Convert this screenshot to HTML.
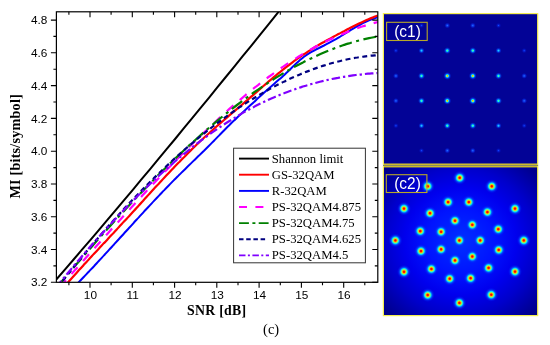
<!DOCTYPE html><html><head><meta charset="utf-8"><title>MI vs SNR</title>
<style>html,body{margin:0;padding:0;background:#fff}svg{display:block}text{font-family:"Liberation Sans",sans-serif}.s{font-family:"Liberation Serif",serif}</style></head><body>
<svg width="550" height="345" viewBox="0 0 550 345">
<defs>
<clipPath id="pc"><rect x="56.4" y="11.8" width="321.4" height="270.5"/></clipPath>
<radialGradient id="d2"><stop offset="0" stop-color="#e80000"/><stop offset="0.12" stop-color="#ff1800"/><stop offset="0.25" stop-color="#ffc000"/><stop offset="0.36" stop-color="#70ff80"/><stop offset="0.48" stop-color="#00d8ff"/><stop offset="0.62" stop-color="#0068ff" stop-opacity="0.8"/><stop offset="0.8" stop-color="#0038ff" stop-opacity="0.35"/><stop offset="1" stop-color="#0020ff" stop-opacity="0"/></radialGradient>
<radialGradient id="a1"><stop offset="0" stop-color="#ff5000"/><stop offset="0.12" stop-color="#ffb000"/><stop offset="0.22" stop-color="#a0ff50"/><stop offset="0.3" stop-color="#30ffc0"/><stop offset="0.42" stop-color="#00a0ff"/><stop offset="0.6" stop-color="#0050ff" stop-opacity="0.7"/><stop offset="1" stop-color="#0020e0" stop-opacity="0"/></radialGradient>
<radialGradient id="a2"><stop offset="0" stop-color="#50ff70"/><stop offset="0.18" stop-color="#30ffc0"/><stop offset="0.3" stop-color="#00c0ff"/><stop offset="0.48" stop-color="#0070ff" stop-opacity="0.8"/><stop offset="1" stop-color="#0020e0" stop-opacity="0"/></radialGradient>
<radialGradient id="a3"><stop offset="0" stop-color="#20d0ff"/><stop offset="0.25" stop-color="#10a0ff"/><stop offset="0.5" stop-color="#0050ff" stop-opacity="0.7"/><stop offset="1" stop-color="#0020e0" stop-opacity="0"/></radialGradient>
<radialGradient id="a4"><stop offset="0" stop-color="#2078ff"/><stop offset="0.4" stop-color="#1040ff" stop-opacity="0.7"/><stop offset="1" stop-color="#0020e0" stop-opacity="0"/></radialGradient>
<radialGradient id="a5"><stop offset="0" stop-color="#1048ff"/><stop offset="0.4" stop-color="#0828e8" stop-opacity="0.6"/><stop offset="1" stop-color="#0010c0" stop-opacity="0"/></radialGradient>
<radialGradient id="bg2" cx="0.5" cy="0.5" r="0.72"><stop offset="0" stop-color="#0030ff"/><stop offset="0.3" stop-color="#0014ff"/><stop offset="0.5" stop-color="#0000ee"/><stop offset="0.68" stop-color="#0000cc"/><stop offset="0.84" stop-color="#0000a4"/><stop offset="1" stop-color="#00007c"/></radialGradient>
</defs>
<rect width="550" height="345" fill="#fff"/>
<g clip-path="url(#pc)" fill="none" stroke-linejoin="round">
<path d="M48.2 288.7 L56.7 279.0 L65.1 269.3 L73.6 259.5 L82.0 249.7 L90.5 239.8 L99.0 229.9 L107.4 219.9 L115.9 209.9 L124.3 199.9 L132.8 189.8 L141.2 179.7 L149.7 169.6 L158.1 159.4 L166.6 149.2 L175.1 139.0 L183.5 128.7 L192.0 118.4 L200.4 108.1 L208.9 97.8 L217.3 87.4 L225.8 77.0 L234.3 66.6 L242.7 56.2 L251.2 45.8 L259.6 35.3 L268.1 24.8 L276.5 14.3 L285.0 3.8 L293.4 -6.7" stroke="#000" stroke-width="2.0"/>
<path d="M74.0 287.1 C74.8 286.2 77.3 283.7 79.0 281.9 C80.7 280.2 82.3 278.5 84.0 276.7 C85.7 275.0 87.3 273.2 89.0 271.5 C90.7 269.7 92.3 267.9 94.0 266.2 C95.7 264.4 97.3 262.6 99.0 260.8 C100.7 259.0 102.3 257.2 104.0 255.4 C105.7 253.6 107.3 251.7 109.0 249.9 C110.7 248.1 112.3 246.3 114.0 244.5 C115.7 242.6 117.3 240.8 119.0 239.0 C120.7 237.2 122.3 235.3 124.0 233.5 C125.7 231.7 127.3 229.8 129.0 228.0 C130.7 226.2 132.3 224.4 134.0 222.5 C135.7 220.7 137.3 218.9 139.0 217.1 C140.7 215.3 142.3 213.4 144.0 211.6 C145.7 209.8 147.3 208.0 149.0 206.3 C150.7 204.5 152.3 202.7 154.0 200.9 C155.7 199.1 157.3 197.4 159.0 195.6 C160.7 193.9 162.3 192.1 164.0 190.4 C165.7 188.6 167.3 186.9 169.0 185.2 C170.7 183.5 172.3 181.8 174.0 180.1 C175.7 178.5 177.3 176.8 179.0 175.1 C180.7 173.5 182.3 171.8 184.0 170.2 C185.7 168.6 187.3 166.9 189.0 165.3 C190.7 163.7 192.3 162.1 194.0 160.4 C195.7 158.8 197.3 157.2 199.0 155.6 C200.7 153.9 202.3 152.3 204.0 150.7 C205.7 149.0 207.3 147.4 209.0 145.7 C210.7 144.1 212.3 142.4 214.0 140.7 C215.7 139.0 217.3 137.3 219.0 135.6 C220.7 133.9 222.3 132.2 224.0 130.5 C225.7 128.8 227.3 127.1 229.0 125.5 C230.7 123.8 232.3 122.2 234.0 120.6 C235.7 119.0 237.3 117.4 239.0 115.8 C240.7 114.3 242.3 112.8 244.0 111.2 C245.7 109.7 247.3 108.2 249.0 106.6 C250.7 105.1 252.3 103.5 254.0 102.0 C255.7 100.4 257.3 98.8 259.0 97.3 C260.7 95.7 262.3 94.2 264.0 92.7 C265.7 91.1 267.3 89.7 269.0 88.2 C270.7 86.8 272.3 85.4 274.0 83.9 C275.7 82.5 277.3 81.1 279.0 79.6 C280.7 78.2 282.3 76.7 284.0 75.2 C285.7 73.6 287.3 72.0 289.0 70.4 C290.7 68.8 292.3 67.1 294.0 65.6 C295.7 64.0 297.3 62.4 299.0 60.9 C300.7 59.5 302.3 58.1 304.0 56.8 C305.7 55.6 307.3 54.5 309.0 53.4 C310.7 52.4 312.3 51.5 314.0 50.6 C315.7 49.7 317.3 48.8 319.0 48.0 C320.7 47.1 322.3 46.3 324.0 45.5 C325.7 44.6 327.3 43.8 329.0 42.9 C330.7 42.1 332.3 41.2 334.0 40.2 C335.7 39.3 337.3 38.3 339.0 37.3 C340.7 36.3 342.3 35.2 344.0 34.2 C345.7 33.1 347.3 32.1 349.0 31.1 C350.7 30.1 352.3 29.0 354.0 28.1 C355.7 27.1 357.3 26.2 359.0 25.3 C360.7 24.4 362.3 23.5 364.0 22.7 C365.7 21.9 367.3 21.1 369.0 20.4 C370.7 19.7 372.6 19.0 374.0 18.6 C375.4 18.1 377.1 17.6 377.7 17.4" stroke="#0000ff" stroke-width="2.0"/>
<path d="M64.0 287.1 C64.8 286.2 67.3 283.3 69.0 281.3 C70.7 279.4 72.3 277.6 74.0 275.7 C75.7 273.8 77.3 272.0 79.0 270.1 C80.7 268.3 82.3 266.5 84.0 264.6 C85.7 262.8 87.3 261.0 89.0 259.2 C90.7 257.4 92.3 255.6 94.0 253.8 C95.7 252.0 97.3 250.3 99.0 248.5 C100.7 246.7 102.3 244.9 104.0 243.1 C105.7 241.4 107.3 239.6 109.0 237.8 C110.7 236.0 112.3 234.2 114.0 232.4 C115.7 230.6 117.3 228.8 119.0 227.0 C120.7 225.2 122.3 223.4 124.0 221.6 C125.7 219.8 127.3 218.0 129.0 216.2 C130.7 214.3 132.3 212.5 134.0 210.7 C135.7 208.9 137.3 207.0 139.0 205.2 C140.7 203.4 142.3 201.5 144.0 199.7 C145.7 197.9 147.3 196.1 149.0 194.3 C150.7 192.4 152.3 190.6 154.0 188.8 C155.7 187.0 157.3 185.2 159.0 183.4 C160.7 181.6 162.3 179.8 164.0 178.0 C165.7 176.2 167.3 174.5 169.0 172.7 C170.7 170.9 172.3 169.2 174.0 167.4 C175.7 165.7 177.3 164.0 179.0 162.3 C180.7 160.5 182.3 158.8 184.0 157.2 C185.7 155.5 187.3 153.8 189.0 152.1 C190.7 150.5 192.3 148.8 194.0 147.2 C195.7 145.6 197.3 144.0 199.0 142.4 C200.7 140.8 202.3 139.3 204.0 137.7 C205.7 136.2 207.3 134.7 209.0 133.2 C210.7 131.7 212.3 130.2 214.0 128.7 C215.7 127.2 217.3 125.8 219.0 124.3 C220.7 122.9 222.3 121.4 224.0 120.0 C225.7 118.6 227.3 117.1 229.0 115.7 C230.7 114.3 232.3 112.9 234.0 111.4 C235.7 110.0 237.3 108.6 239.0 107.2 C240.7 105.8 242.3 104.3 244.0 102.9 C245.7 101.5 247.3 100.1 249.0 98.6 C250.7 97.2 252.3 95.7 254.0 94.3 C255.7 92.8 257.3 91.3 259.0 89.9 C260.7 88.4 262.3 87.0 264.0 85.5 C265.7 84.1 267.3 82.6 269.0 81.2 C270.7 79.8 272.3 78.3 274.0 76.9 C275.7 75.6 277.3 74.2 279.0 72.8 C280.7 71.5 282.3 70.1 284.0 68.8 C285.7 67.5 287.3 66.2 289.0 65.0 C290.7 63.7 292.3 62.5 294.0 61.2 C295.7 60.0 297.3 58.8 299.0 57.7 C300.7 56.5 302.3 55.3 304.0 54.2 C305.7 53.1 307.3 52.0 309.0 50.9 C310.7 49.9 312.3 48.8 314.0 47.8 C315.7 46.8 317.3 45.8 319.0 44.8 C320.7 43.8 322.3 42.9 324.0 42.0 C325.7 41.0 327.3 40.1 329.0 39.2 C330.7 38.3 332.3 37.4 334.0 36.5 C335.7 35.6 337.3 34.7 339.0 33.8 C340.7 32.9 342.3 32.0 344.0 31.2 C345.7 30.3 347.3 29.4 349.0 28.6 C350.7 27.7 352.3 26.9 354.0 26.0 C355.7 25.2 357.3 24.4 359.0 23.6 C360.7 22.8 362.3 22.0 364.0 21.2 C365.7 20.5 367.3 19.7 369.0 19.0 C370.7 18.3 372.6 17.5 374.0 16.9 C375.4 16.4 377.1 15.8 377.7 15.5" stroke="#ff0000" stroke-width="2.2"/>
<path d="M60.0 286.9 C61.0 285.8 64.0 282.4 66.0 280.2 C68.0 277.9 70.0 275.7 72.0 273.4 C74.0 271.2 76.0 268.9 78.0 266.7 C80.0 264.4 82.0 262.2 84.0 260.0 C86.0 257.7 88.0 255.5 90.0 253.2 C92.0 251.0 94.0 248.8 96.0 246.5 C98.0 244.3 100.0 242.1 102.0 239.8 C104.0 237.6 106.0 235.4 108.0 233.2 C110.0 231.0 112.0 228.7 114.0 226.5 C116.0 224.3 118.0 222.1 120.0 219.9 C122.0 217.7 124.0 215.5 126.0 213.3 C128.0 211.1 130.0 209.0 132.0 206.8 C134.0 204.6 136.0 202.4 138.0 200.3 C140.0 198.1 142.0 196.0 144.0 193.8 C146.0 191.7 148.0 189.5 150.0 187.4 C152.0 185.3 154.0 183.2 156.0 181.0 C158.0 178.9 160.0 176.8 162.0 174.7 C164.0 172.7 166.0 170.6 168.0 168.5 C170.0 166.4 172.0 164.4 174.0 162.3 C176.0 160.3 178.0 158.2 180.0 156.2 C182.0 154.2 184.0 152.2 186.0 150.2 C188.0 148.2 190.0 146.2 192.0 144.2 C194.0 142.2 196.0 140.3 198.0 138.3 C200.0 136.4 202.0 134.4 204.0 132.5 C206.0 130.6 208.0 128.7 210.0 126.8 C212.0 124.9 214.0 123.0 216.0 121.2 C218.0 119.3 220.0 117.5 222.0 115.6 C224.0 113.8 226.0 112.0 228.0 110.2 C230.0 108.5 232.0 106.7 234.0 104.9 C236.0 103.2 238.0 101.5 240.0 99.8 C242.0 98.1 244.0 96.4 246.0 94.7 C248.0 93.1 250.0 91.4 252.0 89.8 C254.0 88.2 256.0 86.6 258.0 85.1 C260.0 83.5 262.0 81.9 264.0 80.4 C266.0 78.9 268.0 77.4 270.0 76.0 C272.0 74.5 274.0 73.0 276.0 71.6 C278.0 70.2 280.0 68.8 282.0 67.4 C284.0 66.1 286.0 64.7 288.0 63.4 C290.0 62.1 292.0 60.8 294.0 59.5 C296.0 58.3 298.0 57.0 300.0 55.8 C302.0 54.6 304.0 53.4 306.0 52.2 C308.0 51.1 310.0 49.9 312.0 48.8 C314.0 47.7 316.0 46.6 318.0 45.6 C320.0 44.5 322.0 43.5 324.0 42.5 C326.0 41.5 328.0 40.5 330.0 39.5 C332.0 38.6 334.0 37.7 336.0 36.8 C338.0 35.9 340.0 35.0 342.0 34.2 C344.0 33.3 346.0 32.5 348.0 31.7 C350.0 30.9 352.0 30.2 354.0 29.4 C356.0 28.7 358.0 28.0 360.0 27.3 C362.0 26.6 364.0 26.0 366.0 25.3 C368.0 24.7 370.1 24.1 372.0 23.6 C373.9 23.0 376.8 22.3 377.7 22.0" stroke="#ff00ff" stroke-width="2.2" stroke-dasharray="9 8.3"/>
<path d="M57.0 287.1 C58.0 286.0 61.0 282.4 63.0 280.0 C65.0 277.7 67.0 275.3 69.0 273.0 C71.0 270.6 73.0 268.3 75.0 265.9 C77.0 263.6 79.0 261.3 81.0 259.0 C83.0 256.7 85.0 254.4 87.0 252.1 C89.0 249.8 91.0 247.5 93.0 245.2 C95.0 242.9 97.0 240.7 99.0 238.4 C101.0 236.2 103.0 233.9 105.0 231.7 C107.0 229.5 109.0 227.2 111.0 225.0 C113.0 222.8 115.0 220.6 117.0 218.4 C119.0 216.3 121.0 214.1 123.0 211.9 C125.0 209.8 127.0 207.6 129.0 205.5 C131.0 203.3 133.0 201.2 135.0 199.1 C137.0 197.0 139.0 194.9 141.0 192.8 C143.0 190.7 145.0 188.7 147.0 186.6 C149.0 184.5 151.0 182.5 153.0 180.5 C155.0 178.4 157.0 176.4 159.0 174.4 C161.0 172.4 163.0 170.4 165.0 168.5 C167.0 166.5 169.0 164.6 171.0 162.6 C173.0 160.7 175.0 158.8 177.0 156.9 C179.0 155.0 181.0 153.1 183.0 151.2 C185.0 149.3 187.0 147.5 189.0 145.6 C191.0 143.8 193.0 142.0 195.0 140.2 C197.0 138.4 199.0 136.6 201.0 134.8 C203.0 133.0 205.0 131.3 207.0 129.5 C209.0 127.8 211.0 126.1 213.0 124.4 C215.0 122.7 217.0 121.0 219.0 119.4 C221.0 117.7 223.0 116.1 225.0 114.5 C227.0 112.9 229.0 111.3 231.0 109.7 C233.0 108.1 235.0 106.5 237.0 105.0 C239.0 103.5 241.0 102.0 243.0 100.5 C245.0 99.0 247.0 97.5 249.0 96.0 C251.0 94.6 253.0 93.2 255.0 91.7 C257.0 90.3 259.0 88.9 261.0 87.6 C263.0 86.2 265.0 84.9 267.0 83.6 C269.0 82.2 271.0 80.9 273.0 79.7 C275.0 78.4 277.0 77.1 279.0 75.9 C281.0 74.7 283.0 73.5 285.0 72.3 C287.0 71.1 289.0 70.0 291.0 68.8 C293.0 67.7 295.0 66.6 297.0 65.5 C299.0 64.4 301.0 63.4 303.0 62.4 C305.0 61.3 307.0 60.3 309.0 59.3 C311.0 58.4 313.0 57.4 315.0 56.5 C317.0 55.6 319.0 54.7 321.0 53.8 C323.0 52.9 325.0 52.1 327.0 51.2 C329.0 50.4 331.0 49.6 333.0 48.9 C335.0 48.1 337.0 47.4 339.0 46.7 C341.0 45.9 343.0 45.3 345.0 44.6 C347.0 44.0 349.0 43.3 351.0 42.7 C353.0 42.1 355.0 41.6 357.0 41.0 C359.0 40.5 361.0 40.0 363.0 39.5 C365.0 39.0 367.0 38.6 369.0 38.2 C371.0 37.8 373.5 37.3 375.0 37.0 C376.5 36.7 377.3 36.6 377.8 36.5" stroke="#008000" stroke-width="2.2" stroke-dasharray="13 4.5 3 4.5"/>
<path d="M57.5 287.5 C58.5 286.2 61.5 282.4 63.5 279.8 C65.5 277.3 67.5 274.8 69.5 272.3 C71.5 269.8 73.5 267.4 75.5 264.9 C77.5 262.5 79.5 260.0 81.5 257.6 C83.5 255.2 85.5 252.8 87.5 250.4 C89.5 248.0 91.5 245.7 93.5 243.3 C95.5 241.0 97.5 238.6 99.5 236.3 C101.5 234.0 103.5 231.7 105.5 229.5 C107.5 227.2 109.5 224.9 111.5 222.7 C113.5 220.5 115.5 218.2 117.5 216.1 C119.5 213.9 121.5 211.7 123.5 209.5 C125.5 207.4 127.5 205.2 129.5 203.1 C131.5 201.0 133.5 198.9 135.5 196.8 C137.5 194.7 139.5 192.6 141.5 190.6 C143.5 188.6 145.5 186.5 147.5 184.5 C149.5 182.5 151.5 180.5 153.5 178.6 C155.5 176.6 157.5 174.7 159.5 172.8 C161.5 170.8 163.5 168.9 165.5 167.1 C167.5 165.2 169.5 163.3 171.5 161.5 C173.5 159.6 175.5 157.8 177.5 156.0 C179.5 154.2 181.5 152.5 183.5 150.7 C185.5 148.9 187.5 147.2 189.5 145.5 C191.5 143.8 193.5 142.1 195.5 140.4 C197.5 138.8 199.5 137.1 201.5 135.5 C203.5 133.9 205.5 132.3 207.5 130.7 C209.5 129.1 211.5 127.6 213.5 126.0 C215.5 124.5 217.5 123.0 219.5 121.5 C221.5 120.0 223.5 118.5 225.5 117.1 C227.5 115.7 229.5 114.2 231.5 112.8 C233.5 111.4 235.5 110.1 237.5 108.7 C239.5 107.4 241.5 106.0 243.5 104.7 C245.5 103.4 247.5 102.1 249.5 100.9 C251.5 99.6 253.5 98.4 255.5 97.2 C257.5 96.0 259.5 94.8 261.5 93.6 C263.5 92.5 265.5 91.3 267.5 90.2 C269.5 89.1 271.5 88.0 273.5 87.0 C275.5 85.9 277.5 84.9 279.5 83.9 C281.5 82.8 283.5 81.9 285.5 80.9 C287.5 79.9 289.5 79.0 291.5 78.1 C293.5 77.2 295.5 76.3 297.5 75.4 C299.5 74.6 301.5 73.7 303.5 72.9 C305.5 72.1 307.5 71.3 309.5 70.6 C311.5 69.8 313.5 69.1 315.5 68.4 C317.5 67.7 319.5 67.0 321.5 66.3 C323.5 65.7 325.5 65.0 327.5 64.4 C329.5 63.8 331.5 63.3 333.5 62.7 C335.5 62.2 337.5 61.7 339.5 61.2 C341.5 60.7 343.5 60.2 345.5 59.8 C347.5 59.3 349.5 58.9 351.5 58.5 C353.5 58.1 355.5 57.8 357.5 57.5 C359.5 57.1 361.5 56.8 363.5 56.6 C365.5 56.3 367.5 56.0 369.5 55.8 C371.5 55.6 374.2 55.4 375.5 55.3 C376.8 55.1 377.2 55.1 377.5 55.1" stroke="#000080" stroke-width="2.2" stroke-dasharray="5 3.5"/>
<path d="M55.9 287.7 C56.9 286.5 59.9 282.8 61.9 280.3 C63.9 277.9 65.9 275.4 67.9 273.0 C69.9 270.6 71.9 268.2 73.9 265.8 C75.9 263.4 77.9 261.1 79.9 258.7 C81.9 256.4 83.9 254.0 85.9 251.7 C87.9 249.4 89.9 247.1 91.9 244.8 C93.9 242.5 95.9 240.3 97.9 238.0 C99.9 235.8 101.9 233.6 103.9 231.4 C105.9 229.2 107.9 227.0 109.9 224.8 C111.9 222.6 113.9 220.5 115.9 218.4 C117.9 216.2 119.9 214.1 121.9 212.0 C123.9 210.0 125.9 207.9 127.9 205.8 C129.9 203.8 131.9 201.8 133.9 199.8 C135.9 197.7 137.9 195.8 139.9 193.8 C141.9 191.8 143.9 189.9 145.9 188.0 C147.9 186.0 149.9 184.1 151.9 182.2 C153.9 180.4 155.9 178.5 157.9 176.7 C159.9 174.8 161.9 173.0 163.9 171.2 C165.9 169.4 167.9 167.7 169.9 165.9 C171.9 164.2 173.9 162.4 175.9 160.7 C177.9 159.0 179.9 157.3 181.9 155.7 C183.9 154.0 185.9 152.4 187.9 150.8 C189.9 149.2 191.9 147.6 193.9 146.0 C195.9 144.5 197.9 142.9 199.9 141.4 C201.9 139.9 203.9 138.4 205.9 137.0 C207.9 135.5 209.9 134.1 211.9 132.7 C213.9 131.3 215.9 129.9 217.9 128.5 C219.9 127.2 221.9 125.8 223.9 124.5 C225.9 123.2 227.9 121.9 229.9 120.7 C231.9 119.4 233.9 118.2 235.9 117.0 C237.9 115.8 239.9 114.6 241.9 113.4 C243.9 112.3 245.9 111.2 247.9 110.1 C249.9 109.0 251.9 107.9 253.9 106.9 C255.9 105.8 257.9 104.8 259.9 103.8 C261.9 102.9 263.9 101.9 265.9 101.0 C267.9 100.0 269.9 99.1 271.9 98.2 C273.9 97.4 275.9 96.5 277.9 95.7 C279.9 94.8 281.9 94.0 283.9 93.3 C285.9 92.5 287.9 91.7 289.9 91.0 C291.9 90.3 293.9 89.6 295.9 88.9 C297.9 88.2 299.9 87.5 301.9 86.9 C303.9 86.3 305.9 85.6 307.9 85.1 C309.9 84.5 311.9 83.9 313.9 83.4 C315.9 82.8 317.9 82.3 319.9 81.8 C321.9 81.3 323.9 80.8 325.9 80.3 C327.9 79.9 329.9 79.5 331.9 79.0 C333.9 78.6 335.9 78.2 337.9 77.9 C339.9 77.5 341.9 77.1 343.9 76.8 C345.9 76.5 347.9 76.2 349.9 75.9 C351.9 75.6 353.9 75.3 355.9 75.0 C357.9 74.8 359.9 74.6 361.9 74.3 C363.9 74.1 365.9 73.9 367.9 73.7 C369.9 73.6 372.3 73.4 373.9 73.3 C375.5 73.1 376.9 73.1 377.5 73.0" stroke="#8000ff" stroke-width="2.2" stroke-dasharray="8.5 3 2.3 3"/>
</g>
<rect x="56.4" y="11.8" width="321.4" height="270.5" fill="none" stroke="#000" stroke-width="1.2"/>
<path d="M68.9 282.3v3.0M68.9 11.8v3.0M90.0 282.3v5.5M90.0 11.8v5.5M111.1 282.3v3.0M111.1 11.8v3.0M132.3 282.3v5.5M132.3 11.8v5.5M153.4 282.3v3.0M153.4 11.8v3.0M174.6 282.3v5.5M174.6 11.8v5.5M195.7 282.3v3.0M195.7 11.8v3.0M216.8 282.3v5.5M216.8 11.8v5.5M238.0 282.3v3.0M238.0 11.8v3.0M259.1 282.3v5.5M259.1 11.8v5.5M280.3 282.3v3.0M280.3 11.8v3.0M301.4 282.3v5.5M301.4 11.8v5.5M322.5 282.3v3.0M322.5 11.8v3.0M343.7 282.3v5.5M343.7 11.8v5.5M364.8 282.3v3.0M364.8 11.8v3.0M56.4 282.3h-5.5M377.8 282.3h-5.5M56.4 265.9h-3.0M377.8 265.9h-3.0M56.4 249.5h-5.5M377.8 249.5h-5.5M56.4 233.1h-3.0M377.8 233.1h-3.0M56.4 216.7h-5.5M377.8 216.7h-5.5M56.4 200.4h-3.0M377.8 200.4h-3.0M56.4 184.0h-5.5M377.8 184.0h-5.5M56.4 167.6h-3.0M377.8 167.6h-3.0M56.4 151.2h-5.5M377.8 151.2h-5.5M56.4 134.8h-3.0M377.8 134.8h-3.0M56.4 118.4h-5.5M377.8 118.4h-5.5M56.4 102.0h-3.0M377.8 102.0h-3.0M56.4 85.6h-5.5M377.8 85.6h-5.5M56.4 69.2h-3.0M377.8 69.2h-3.0M56.4 52.8h-5.5M377.8 52.8h-5.5M56.4 36.4h-3.0M377.8 36.4h-3.0M56.4 20.1h-5.5M377.8 20.1h-5.5" stroke="#000" stroke-width="1.1" fill="none"/>
<g font-size="11.8" fill="#000">
<text x="90.4" y="298.9" text-anchor="middle">10</text>
<text x="132.7" y="298.9" text-anchor="middle">11</text>
<text x="175.0" y="298.9" text-anchor="middle">12</text>
<text x="217.2" y="298.9" text-anchor="middle">13</text>
<text x="259.5" y="298.9" text-anchor="middle">14</text>
<text x="301.8" y="298.9" text-anchor="middle">15</text>
<text x="344.1" y="298.9" text-anchor="middle">16</text>
<text x="47.3" y="286.4" text-anchor="end">3.2</text>
<text x="47.3" y="253.6" text-anchor="end">3.4</text>
<text x="47.3" y="220.8" text-anchor="end">3.6</text>
<text x="47.3" y="188.1" text-anchor="end">3.8</text>
<text x="47.3" y="155.3" text-anchor="end">4.0</text>
<text x="47.3" y="122.5" text-anchor="end">4.2</text>
<text x="47.3" y="89.7" text-anchor="end">4.4</text>
<text x="47.3" y="56.9" text-anchor="end">4.6</text>
<text x="47.3" y="24.2" text-anchor="end">4.8</text>
</g>
<text class="s" x="216.7" y="315.4" text-anchor="middle" font-size="13.8" letter-spacing="0.3" font-weight="bold">SNR [dB]</text>
<text class="s" transform="translate(20.1 146.3) rotate(-90)" text-anchor="middle" font-size="14.3" letter-spacing="0.15" font-weight="bold">MI [bits/symbol]</text>
<text class="s" x="271.1" y="333.6" text-anchor="middle" font-size="14.5">(c)</text>
<rect x="233.6" y="148.2" width="131.8" height="114.6" fill="#fff" stroke="#333" stroke-width="1"/>
<path d="M239 158.6H269" stroke="#000" stroke-width="1.9" fill="none"/>
<text class="s" x="271.8" y="162.6" font-size="12.7">Shannon limit</text>
<path d="M239 174.7H269" stroke="#ff0000" stroke-width="1.9" fill="none"/>
<text class="s" x="271.8" y="178.7" font-size="12.7">GS-32QAM</text>
<path d="M239 190.9H269" stroke="#0000ff" stroke-width="1.9" fill="none"/>
<text class="s" x="271.8" y="194.9" font-size="12.7">R-32QAM</text>
<path d="M239 207.0H269" stroke="#ff00ff" stroke-width="1.9" fill="none" stroke-dasharray="8 8.4"/>
<text class="s" x="271.8" y="211.0" font-size="12.7">PS-32QAM4.875</text>
<path d="M239 223.1H269" stroke="#008000" stroke-width="1.9" fill="none" stroke-dasharray="9.9 3.5 3 3.3"/>
<text class="s" x="271.8" y="227.1" font-size="12.7">PS-32QAM4.75</text>
<path d="M239 239.2H269" stroke="#000080" stroke-width="1.9" fill="none" stroke-dasharray="4.5 2.7 4.5 2.7 4.5 2.7 4.5 20"/>
<text class="s" x="271.8" y="243.2" font-size="12.7">PS-32QAM4.625</text>
<path d="M239 255.4H269" stroke="#8000ff" stroke-width="1.9" fill="none" stroke-dasharray="6.5 2.4 2 2.5"/>
<text class="s" x="271.8" y="259.4" font-size="12.7">PS-32QAM4.5</text>
<rect x="383.4" y="13.6" width="154.3" height="150.7" fill="#030396" stroke="#f4ee50" stroke-width="1.2"/>
<circle cx="421.5" cy="25.5" r="2.7" fill="url(#a5)"/>
<circle cx="447.3" cy="25.5" r="2.9" fill="url(#a4)"/>
<circle cx="472.8" cy="25.5" r="2.9" fill="url(#a4)"/>
<circle cx="498.5" cy="25.5" r="2.7" fill="url(#a5)"/>
<circle cx="395.9" cy="50.6" r="2.7" fill="url(#a5)"/>
<circle cx="421.5" cy="50.6" r="3.1" fill="url(#a3)"/>
<circle cx="447.3" cy="50.6" r="3.5" fill="url(#a2)"/>
<circle cx="472.8" cy="50.6" r="3.5" fill="url(#a2)"/>
<circle cx="498.5" cy="50.6" r="3.1" fill="url(#a3)"/>
<circle cx="524.2" cy="50.6" r="2.7" fill="url(#a5)"/>
<circle cx="395.9" cy="75.9" r="2.9" fill="url(#a4)"/>
<circle cx="421.5" cy="75.9" r="3.5" fill="url(#a2)"/>
<circle cx="447.3" cy="75.9" r="4.0" fill="url(#a1)"/>
<circle cx="472.8" cy="75.9" r="4.0" fill="url(#a1)"/>
<circle cx="498.5" cy="75.9" r="3.5" fill="url(#a2)"/>
<circle cx="524.2" cy="75.9" r="2.9" fill="url(#a4)"/>
<circle cx="395.9" cy="100.8" r="2.9" fill="url(#a4)"/>
<circle cx="421.5" cy="100.8" r="3.5" fill="url(#a2)"/>
<circle cx="447.3" cy="100.8" r="4.0" fill="url(#a1)"/>
<circle cx="472.8" cy="100.8" r="4.0" fill="url(#a1)"/>
<circle cx="498.5" cy="100.8" r="3.5" fill="url(#a2)"/>
<circle cx="524.2" cy="100.8" r="2.9" fill="url(#a4)"/>
<circle cx="395.9" cy="125.7" r="2.7" fill="url(#a5)"/>
<circle cx="421.5" cy="125.7" r="3.1" fill="url(#a3)"/>
<circle cx="447.3" cy="125.7" r="3.5" fill="url(#a2)"/>
<circle cx="472.8" cy="125.7" r="3.5" fill="url(#a2)"/>
<circle cx="498.5" cy="125.7" r="3.1" fill="url(#a3)"/>
<circle cx="524.2" cy="125.7" r="2.7" fill="url(#a5)"/>
<circle cx="421.5" cy="150.6" r="2.7" fill="url(#a5)"/>
<circle cx="447.3" cy="150.6" r="2.9" fill="url(#a4)"/>
<circle cx="472.8" cy="150.6" r="2.9" fill="url(#a4)"/>
<circle cx="498.5" cy="150.6" r="2.7" fill="url(#a5)"/>
<rect x="386.6" y="22.3" width="40.6" height="18.2" fill="none" stroke="#b8a828" stroke-width="1.1"/>
<text transform="translate(407.5 36.7) scale(0.93 1)" text-anchor="middle" font-size="16.6" fill="#fff">(c1)</text>
<rect x="383" y="164.9" width="155.2" height="1.2" fill="#8a8a60"/>
<rect x="383.4" y="166.6" width="154.3" height="149" fill="url(#bg2)" stroke="#f4ee50" stroke-width="1.2"/>
<circle cx="459.7" cy="177.8" r="7" fill="url(#d2)"/>
<circle cx="491.8" cy="186.3" r="7" fill="url(#d2)"/>
<circle cx="427.7" cy="186.3" r="7" fill="url(#d2)"/>
<circle cx="404.0" cy="208.6" r="7" fill="url(#d2)"/>
<circle cx="515.0" cy="208.6" r="7" fill="url(#d2)"/>
<circle cx="448.1" cy="202.1" r="7" fill="url(#d2)"/>
<circle cx="468.8" cy="202.1" r="7" fill="url(#d2)"/>
<circle cx="430.0" cy="213.2" r="7" fill="url(#d2)"/>
<circle cx="487.4" cy="212.1" r="7" fill="url(#d2)"/>
<circle cx="455.0" cy="220.7" r="7" fill="url(#d2)"/>
<circle cx="472.3" cy="224.8" r="7" fill="url(#d2)"/>
<circle cx="420.3" cy="231.1" r="7" fill="url(#d2)"/>
<circle cx="441.1" cy="231.8" r="7" fill="url(#d2)"/>
<circle cx="498.3" cy="229.2" r="7" fill="url(#d2)"/>
<circle cx="395.4" cy="240.4" r="7" fill="url(#d2)"/>
<circle cx="459.4" cy="240.4" r="7" fill="url(#d2)"/>
<circle cx="480.2" cy="240.4" r="7" fill="url(#d2)"/>
<circle cx="523.8" cy="240.4" r="7" fill="url(#d2)"/>
<circle cx="421.0" cy="251.1" r="7" fill="url(#d2)"/>
<circle cx="441.1" cy="249.3" r="7" fill="url(#d2)"/>
<circle cx="498.7" cy="249.9" r="7" fill="url(#d2)"/>
<circle cx="455.0" cy="260.4" r="7" fill="url(#d2)"/>
<circle cx="472.3" cy="256.5" r="7" fill="url(#d2)"/>
<circle cx="431.4" cy="269.0" r="7" fill="url(#d2)"/>
<circle cx="488.6" cy="267.9" r="7" fill="url(#d2)"/>
<circle cx="404.0" cy="271.8" r="7" fill="url(#d2)"/>
<circle cx="515.0" cy="271.6" r="7" fill="url(#d2)"/>
<circle cx="449.7" cy="278.7" r="7" fill="url(#d2)"/>
<circle cx="470.6" cy="278.2" r="7" fill="url(#d2)"/>
<circle cx="427.7" cy="295.0" r="7" fill="url(#d2)"/>
<circle cx="491.3" cy="294.7" r="7" fill="url(#d2)"/>
<circle cx="459.4" cy="302.9" r="7" fill="url(#d2)"/>
<path d="M384 164.3H537.1M384 166.6H537.1" stroke="#cdbb2a" stroke-width="1.2" fill="none"/>
<rect x="386.3" y="174.7" width="40.6" height="17.8" fill="none" stroke="#b8a828" stroke-width="1.1"/>
<text transform="translate(407.5 189) scale(0.93 1)" text-anchor="middle" font-size="16.6" fill="#fff">(c2)</text>
</svg></body></html>
